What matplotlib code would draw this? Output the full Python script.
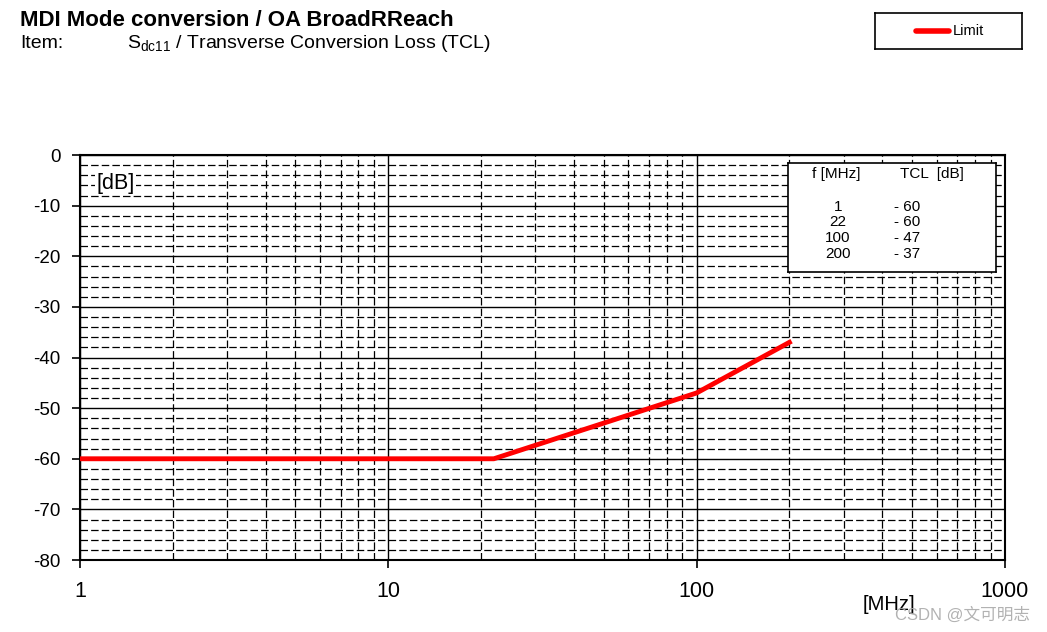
import numpy as np
import matplotlib.pyplot as plt
from matplotlib.ticker import FixedLocator, NullFormatter

plt.rcParams['font.family'] = ['Liberation Sans', 'Noto Sans CJK SC', 'DejaVu Sans']
plt.rcParams['axes.unicode_minus'] = False

# limit curve
freq_mhz = [1, 22, 100, 200]
tcl_db = [-60, -60, -47, -37]

x_ticks = [1, 10, 100, 1000]
x_labels = ['1', '10', '100', '1000']
y_ticks = [0, -10, -20, -30, -40, -50, -60, -70, -80]

fig = plt.figure(figsize=(10.47, 6.32), dpi=100)
ax = fig.add_axes([0.0764, 0.1139, 0.8834, 0.6408])

ax.set_xscale('log')
ax.set_xlim(1, 1000)
ax.set_ylim(-80, 0)

ax.xaxis.set_major_locator(FixedLocator(x_ticks))
ax.set_xticklabels(x_labels)
minor_x = [m * d for d in (1, 10, 100) for m in range(2, 10)]
ax.xaxis.set_minor_locator(FixedLocator(minor_x))
ax.xaxis.set_minor_formatter(NullFormatter())
ax.yaxis.set_major_locator(FixedLocator(y_ticks))
ax.yaxis.set_minor_locator(FixedLocator(np.arange(-80, 0, 2)))

ax.grid(which='major', color='black', linestyle='-', linewidth=1.0)
ax.grid(which='minor', color='black', linestyle=(0, (6, 2.5)), linewidth=0.9)
ax.tick_params(which='major', direction='out', length=6, width=1.2, pad=8)
ax.tick_params(which='minor', direction='out', length=0)
ax.tick_params(axis='x', labelsize=15.5, pad=9)
ax.tick_params(axis='y', labelsize=13.5, pad=8)
for s in ax.spines.values():
    s.set_linewidth(1.5)
    s.set_color('black')

ax.plot(freq_mhz, tcl_db, color='#ff0000', linewidth=3.5, zorder=5)

# [dB] label inside axes
ax.text(0.018, 0.93, '[dB]', transform=ax.transAxes, fontsize=15.5, va='center', ha='left',
        bbox=dict(facecolor='white', edgecolor='none', pad=1))

# value table box
box_ax = fig.add_axes([788 / 1047, 1 - 272 / 632, 208 / 1047, 109 / 632])
box_ax.set_xticks([])
box_ax.set_yticks([])
for s in box_ax.spines.values():
    s.set_linewidth(1.2)
box_ax.text(0.23, 0.90, 'f [MHz]', ha='center', va='center', fontsize=11)
box_ax.text(0.69, 0.90, 'TCL  [dB]', ha='center', va='center', fontsize=11)
for i, (f, t) in enumerate(zip(freq_mhz, tcl_db)):
    yy = 0.60 - i * 0.145
    box_ax.text(0.24, yy, str(f), ha='center', va='center', fontsize=11)
    box_ax.text(0.51, yy, f'- {abs(t)}', ha='left', va='center', fontsize=11)

# legend box
leg_ax = fig.add_axes([875 / 1047, 1 - 49 / 632, 147 / 1047, 36 / 632])
leg_ax.set_xticks([])
leg_ax.set_yticks([])
leg_ax.set_xlim(0, 1)
leg_ax.set_ylim(0, 1)
for s in leg_ax.spines.values():
    s.set_linewidth(1.2)
leg_ax.plot([0.28, 0.5], [0.5, 0.5], color='#ff0000', linewidth=4, solid_capstyle='round')
leg_ax.text(0.53, 0.5, 'Limit', va='center', ha='left', fontsize=10.5)

# titles
fig.text(20 / 1047, 1 - 20 / 632, 'MDI Mode conversion / OA BroadRReach',
         fontsize=16, fontweight='bold', va='center', ha='left')
fig.text(20 / 1047, 1 - 44 / 632, 'Item:', fontsize=14, va='center', ha='left')
fig.text(127 / 1047, 1 - 44 / 632, r'S$_{\mathregular{dc11}}$ / Transverse Conversion Loss (TCL)',
         fontsize=14, va='center', ha='left')

fig.text(863 / 1047, 1 - 605 / 632, '[MHz]', fontsize=14.5, va='center', ha='left')
fig.text(1030 / 1047, 1 - 615 / 632, 'CSDN @文可明志', fontsize=12, color='#aaaaaa',
         va='center', ha='right', alpha=0.9)

fig.savefig('out.png', dpi=100)
